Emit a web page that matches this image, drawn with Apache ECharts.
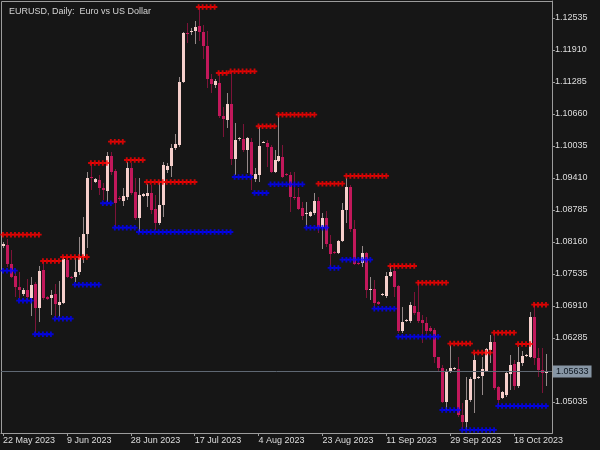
<!DOCTYPE html>
<html><head><meta charset="utf-8">
<script src="https://cdn.jsdelivr.net/npm/echarts@6/dist/echarts.min.js"></script>
<style>html,body{margin:0;padding:0;background:#161616;}#c{width:600px;height:450px;}</style>
</head><body><div id="c"></div>
<script>
// ---- data (EURUSD daily, broker shows Sunday bars) ----
const firstDay = [2023, 4, 22];
const barCount = 137;
const open = [
1.0808,1.0810,1.0773,1.0750,1.0728,1.0714,1.0722,1.0707,1.0734,1.0687,
1.0761,1.0709,1.0707,1.0715,1.0693,1.0697,1.0781,1.0748,1.0748,1.0757,
1.0787,1.0832,1.0943,1.0933,1.0937,1.0922,1.0916,1.0984,1.0955,1.0902,
1.0896,1.0904,1.0961,1.0914,1.0863,1.0906,1.0906,1.0912,1.0880,1.0853,
1.0888,1.0957,1.0964,1.1000,1.1006,1.1129,1.1224,1.1227,1.1228,1.1238,
1.1226,1.1199,1.1134,1.1123,1.1127,1.1062,1.1054,1.1086,1.0978,1.1017,
1.1017,1.0996,1.1011,1.0939,1.0947,1.1011,1.1009,1.1002,1.0953,1.0974,
1.0982,1.0949,1.0947,1.0904,1.0904,1.0882,1.0870,1.0866,1.0873,1.0896,
1.0845,1.0863,1.0812,1.0796,1.0795,1.0818,1.0879,1.0924,1.0841,1.0775,
1.0775,1.0795,1.0722,1.0724,1.0699,1.0712,1.0711,1.0750,1.0759,1.0730,
1.0642,1.0662,1.0662,1.0691,1.0679,1.0664,1.0658,1.0649,1.0644,1.0591,
1.0570,1.0504,1.0564,1.0568,1.0568,1.0478,1.0465,1.0508,1.0549,1.0551,
1.0554,1.0564,1.0605,1.0621,1.0533,1.0511,1.0517,1.0558,1.0578,1.0535,
1.0580,1.0593,1.0591,1.0670,1.0590,1.0566,1.0560];
const close = [
1.0812,1.0773,1.0748,1.0728,1.0722,1.0722,1.0709,1.0732,1.0687,1.0759,
1.0707,1.0705,1.0713,1.0695,1.0699,1.0783,1.0748,1.0746,1.0757,1.0787,
1.0832,1.0941,1.0941,1.0939,1.0922,1.0918,1.0984,1.0953,1.0892,1.0900,
1.0906,1.0961,1.0912,1.0863,1.0908,1.0910,1.0912,1.0879,1.0853,1.0888,
1.0966,1.0964,1.1000,1.1007,1.1129,1.1224,1.1222,1.1228,1.1236,1.1226,
1.1199,1.1134,1.1125,1.1130,1.1062,1.1056,1.1086,1.0978,1.1015,1.1019,
1.0996,1.1019,1.0947,1.0949,1.1004,1.1012,1.1002,1.0953,1.0976,1.0984,
1.0943,1.0947,1.0904,1.0902,1.0880,1.0867,1.0872,1.0875,1.0896,1.0845,
1.0863,1.0812,1.0793,1.0794,1.0818,1.0879,1.0924,1.0841,1.0773,1.0773,
1.0795,1.0722,1.0724,1.0697,1.0695,1.0714,1.0750,1.0757,1.0728,1.0642,
1.0660,1.0664,1.0693,1.0677,1.0662,1.0658,1.0642,1.0642,1.0591,1.0570,
1.0504,1.0564,1.0570,1.0570,1.0478,1.0465,1.0508,1.0549,1.0586,1.0553,
1.0568,1.0607,1.0621,1.0531,1.0508,1.0523,1.0560,1.0576,1.0535,1.0582,
1.0593,1.0595,1.0670,1.0590,1.0566,1.0561,1.05633];
const low = [
1.0804,1.0767,1.0746,1.0709,1.0707,1.0711,1.0703,1.0671,1.0638,1.0660,
1.0703,1.0703,1.0674,1.0668,1.0670,1.0695,1.0746,1.0744,1.0738,1.0752,
1.0775,1.0804,1.0918,1.0931,1.0908,1.0898,1.0894,1.0947,1.0845,1.0896,
1.0886,1.0898,1.0908,1.0859,1.0836,1.0904,1.0884,1.0871,1.0840,1.0849,
1.0865,1.0951,1.0943,1.0996,1.1002,1.1127,1.1205,1.1221,1.1203,1.1209,
1.1174,1.1117,1.1107,1.1117,1.1058,1.1021,1.1039,1.0966,1.0947,1.1013,
1.0992,1.0951,1.0918,1.0933,1.0933,1.1009,1.0963,1.0951,1.0951,1.0972,
1.0941,1.0945,1.0875,1.0898,1.0879,1.0859,1.0845,1.0864,1.0869,1.0834,
1.0802,1.0806,1.0767,1.0792,1.0793,1.0816,1.0853,1.0836,1.0771,1.0771,
1.0767,1.0707,1.0703,1.0687,1.0693,1.0710,1.0707,1.0748,1.0709,1.0638,
1.0638,1.0660,1.0658,1.0674,1.0658,1.0619,1.0634,1.0640,1.0580,1.0564,
1.0502,1.0488,1.0560,1.0566,1.0474,1.0449,1.0449,1.0504,1.0482,1.0549,
1.0517,1.0562,1.0580,1.0527,1.0496,1.0509,1.0513,1.0527,1.0527,1.0531,
1.0574,1.0591,1.0589,1.0576,1.0552,1.0521,1.0535];
const high = [
1.0816,1.0822,1.0800,1.0757,1.0757,1.0726,1.0744,1.0748,1.0738,1.0769,
1.0777,1.0711,1.0722,1.0734,1.0740,1.0787,1.0787,1.0750,1.0785,1.0826,
1.0865,1.0953,1.0970,1.0941,1.0947,1.0931,1.0992,1.0992,1.0959,1.0906,
1.0922,1.0972,1.0970,1.0941,1.0941,1.0912,1.0929,1.0927,1.0908,1.0933,
1.0972,1.0970,1.1007,1.1027,1.1138,1.1226,1.1244,1.1234,1.1248,1.1275,
1.1240,1.1228,1.1144,1.1134,1.1146,1.1080,1.1107,1.1150,1.1049,1.1021,
1.1047,1.1021,1.1019,1.0961,1.1041,1.1014,1.1015,1.1006,1.0996,1.1064,
1.1006,1.0951,1.0953,1.0953,1.0922,1.0894,1.0894,1.0877,1.0912,1.0904,
1.0873,1.0877,1.0830,1.0798,1.0820,1.0892,1.0941,1.0927,1.0859,1.0777,
1.0808,1.0797,1.0748,1.0742,1.0701,1.0716,1.0757,1.0769,1.0771,1.0732,
1.0689,1.0666,1.0699,1.0718,1.0738,1.0674,1.0670,1.0651,1.0648,1.0591,
1.0576,1.0568,1.0615,1.0572,1.0591,1.0502,1.0552,1.0552,1.0599,1.0555,
1.0591,1.0609,1.0634,1.0638,1.0535,1.0525,1.0562,1.0595,1.0586,1.0611,
1.0604,1.0597,1.0679,1.0695,1.0609,1.0609,1.0597];
// resistance / support levels: [firstBar, lastBar, price]
const resistance = [
[0,9,1.08303],[10,14,1.07789],[15,21,1.07867],[22,26,1.09703],[27,30,1.10120],
[31,35,1.09762],[36,48,1.09332],[49,53,1.12750],[54,56,1.11461],[57,63,1.11494],
[64,68,1.10420],[69,78,1.10647],[79,85,1.09299],[86,96,1.09450],[97,103,1.07692],
[104,111,1.07366],[112,117,1.06176],[118,122,1.06000],[123,128,1.06389],
[129,132,1.06168],[133,136,1.06936]];
const support = [
[0,3,1.07600],[4,7,1.07014],[8,12,1.06358],[13,17,1.06662],[18,24,1.07326],
[25,27,1.08916],[28,33,1.08440],[34,57,1.08356],[58,62,1.09430],[63,66,1.09117],
[67,75,1.09287],[76,81,1.08440],[82,84,1.07653],[85,92,1.07815],[93,98,1.06858],
[99,109,1.06311],[110,114,1.04879],[115,123,1.04489],[124,136,1.04957]];
const priceTicks = [1.05035,1.06285,1.06910,1.07535,1.08160,1.08785,1.09410,
                    1.10035,1.10660,1.11285,1.11910,1.12535];
const lastPrice = 1.05633;
const yMin = 1.044295, yMax = 1.12867;
const titleText = 'EURUSD, Daily:  Euro vs US Dollar';

// ---- build ----
const monthNames = ['Jan','Feb','Mar','Apr','May','Jun','Jul','Aug','Sep','Oct','Nov','Dec'];
const dates = [];
for (let t = Date.UTC(firstDay[0], firstDay[1], firstDay[2]); dates.length < barCount + 1; t += 86400000) {
  const d = new Date(t);
  if (d.getUTCDay() === 6) continue;
  dates.push(d.getUTCDate() + ' ' + monthNames[d.getUTCMonth()] + ' ' + d.getUTCFullYear());
}
const candleData = open.map((o, i) => [i, o, close[i], low[i], high[i]]);
function expand(segs) {
  const out = [];
  segs.forEach(s => { for (let i = s[0]; i <= s[1]; i++) out.push([i, s[2]]); });
  return out;
}
const plus = 'path://M2,0H4V2H6V4H4V6H2V4H0V2H2Z';
const font = 'Liberation Sans, Arial, sans-serif';
const upBody = '#f6cfcb', upWick = '#958a8a', dnBody = '#c2185b', dnWick = '#7c1338';

const chart = echarts.init(document.getElementById('c'), null, {renderer: 'canvas'});
chart.setOption({
  animation: false,
  backgroundColor: '#161616',
  title: {text: titleText, left: 4, top: 2,
    textStyle: {color: '#d4d4d4', fontSize: 9, fontWeight: 'normal', fontFamily: font}},
  grid: {left: -1, top: 1, width: 553, height: 432, containLabel: false},
  xAxis: {
    type: 'category', data: dates, boundaryGap: true,
    axisLine: {show: true, lineStyle: {color: '#9c9c9c', width: 1}},
    axisTick: {show: true, interval: 15, alignWithLabel: true, length: 3, lineStyle: {color: '#9c9c9c'}},
    axisLabel: {interval: 15, align: 'left', margin: 3, color: '#dedede', fontSize: 9, fontFamily: font},
    splitLine: {show: false}
  },
  yAxis: {
    type: 'value', position: 'right', min: yMin, max: yMax, scale: true,
    axisLine: {show: true, lineStyle: {color: '#9c9c9c', width: 1}},
    axisTick: {show: true, length: 3, customValues: priceTicks, lineStyle: {color: '#9c9c9c'}},
    axisLabel: {customValues: priceTicks, margin: 3, color: '#dedede', fontSize: 9, fontFamily: font,
      formatter: v => v.toFixed(5)},
    splitLine: {show: false}
  },
  graphic: [{type: 'rect', shape: {x: 1.5, y: 1.5, width: 551, height: 432},
    style: {fill: null, stroke: '#9c9c9c', lineWidth: 1}, silent: true, z: 0}],
  series: [
    {
      type: 'custom', name: 'EURUSD', data: candleData, clip: true,
      encode: {x: 0, y: [1, 2, 3, 4]},
      renderItem: function (params, api) {
        const i = api.value(0), o = api.value(1), c = api.value(2);
        const po = api.coord([i, o]), pc = api.coord([i, c]);
        const pl = api.coord([i, api.value(3)]), ph = api.coord([i, api.value(4)]);
        const x = Math.round(po[0]);
        const up = c >= o;
        let top = Math.round(Math.min(po[1], pc[1])), bot = Math.round(Math.max(po[1], pc[1]));
        if (bot - top < 1) bot = top + 1;
        return {type: 'group', children: [
          {type: 'rect', shape: {x: x, y: Math.round(ph[1]), width: 1, height: Math.max(1, Math.round(pl[1]) - Math.round(ph[1]))},
            style: {fill: up ? upWick : dnWick}},
          {type: 'rect', shape: {x: x - 1, y: top, width: 3, height: bot - top},
            style: {fill: up ? upBody : dnBody}}
        ]};
      },
      z: 3
    },
    {type: 'scatter', name: 'resistance', data: expand(resistance), symbol: plus, symbolSize: 5.5,
      itemStyle: {color: '#ff0000'}, z: 4},
    {type: 'scatter', name: 'support', data: expand(support), symbol: plus, symbolSize: 5.5,
      itemStyle: {color: '#0000ff'}, z: 4,
      markLine: {
        silent: true, symbol: 'none', precision: 5,
        lineStyle: {color: '#5f6873', width: 1, type: 'solid'},
        label: {position: 'end', distance: 1, formatter: lastPrice.toFixed(5),
          backgroundColor: '#8796a5', color: '#0e1720', fontSize: 9, fontFamily: font, padding: [2, 3, 1, 3]},
        data: [{yAxis: lastPrice}]
      }
    }
  ]
});
</script></body></html>
